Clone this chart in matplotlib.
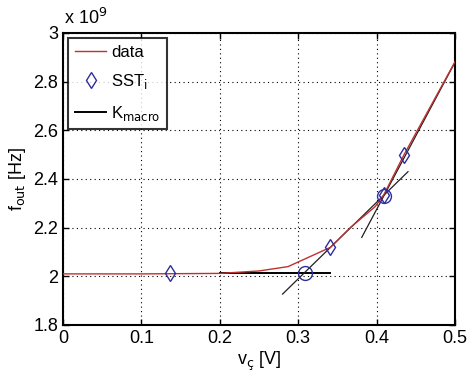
import matplotlib
matplotlib.use("Agg")
import matplotlib.pyplot as plt
from matplotlib.ticker import FormatStrFormatter

# data curve (f_out in units of 1e9 Hz)
vc_data = [0.0, 0.1, 0.2, 0.25, 0.287, 0.341, 0.366, 0.398, 0.409, 0.435, 0.5]
f_data = [2.01, 2.01, 2.012, 2.022, 2.04, 2.119, 2.199, 2.286, 2.334, 2.5, 2.882]

# SST_i points (diamonds)
vc_sst = [0.136, 0.341, 0.409, 0.435]
f_sst = [2.015, 2.119, 2.334, 2.5]

# operating points (circles)
vc_op = [0.309, 0.409]
f_op = [2.013, 2.332]

# K_macro segments
k_flat_x = [0.2, 0.341]
k_flat_y = [2.015, 2.015]
k1_x = [0.28, 0.44]
k1_y = [1.927, 2.43]
k2_x = [0.381, 0.5]
k2_y = [2.16, 2.88]

plt.rcParams['font.family'] = ['Liberation Sans', 'DejaVu Sans']

fig = plt.figure(figsize=(4.74, 3.79), dpi=100)
ax = fig.add_axes([0.133, 0.1425, 0.827, 0.7705])

blue = '#2e2e9e'
ax.plot(vc_data, f_data, '-', color='#c03030', lw=1.0, label='data', zorder=3)
ax.plot(vc_sst, f_sst, 'd', mfc='none', mec=blue, ms=8, mew=1.0, label='SST$_{\\rm i}$', zorder=4)
ax.plot(vc_op, f_op, 'o', mfc='none', mec=blue, ms=10, mew=1.0, zorder=4)
ax.plot(k_flat_x, k_flat_y, '-', color='black', lw=1.4, label='K$_{\\rm macro}$', zorder=2)
ax.plot(k1_x, k1_y, '-', color='#202020', lw=0.9, zorder=2)
ax.plot(k2_x, k2_y, '-', color='#202020', lw=0.9, zorder=2)

ax.set_xlim(0, 0.5)
ax.set_ylim(1.8, 3.0)
ax.set_xticks([0, 0.1, 0.2, 0.3, 0.4, 0.5])
ax.set_yticks([1.8, 2.0, 2.2, 2.4, 2.6, 2.8, 3.0])
ax.xaxis.set_major_formatter(FormatStrFormatter('%g'))
ax.yaxis.set_major_formatter(FormatStrFormatter('%g'))
ax.tick_params(direction='in', length=4, width=1, labelsize=13, top=True, right=True)
for s in ax.spines.values():
    s.set_linewidth(1.5)
ax.grid(True, linestyle=(0, (1, 3)), color='black', lw=0.8)

ax.set_xlabel('v$_{\\rm ç}$ [V]', fontsize=13, labelpad=2)
ax.set_ylabel('f$_{\\rm out}$ [Hz]', fontsize=13, labelpad=4)
fig.text(0.135, 0.925, 'x 10$^{9}$', fontsize=13, ha='left', va='bottom')

leg = ax.legend(loc='upper left', fontsize=12, frameon=True, fancybox=False,
                edgecolor='black', borderpad=0.4, handlelength=1.9, handletextpad=0.3,
                labelspacing=0.75, borderaxespad=0.3)
leg.get_frame().set_linewidth(1.5)

fig.savefig('out.png', dpi=100)
